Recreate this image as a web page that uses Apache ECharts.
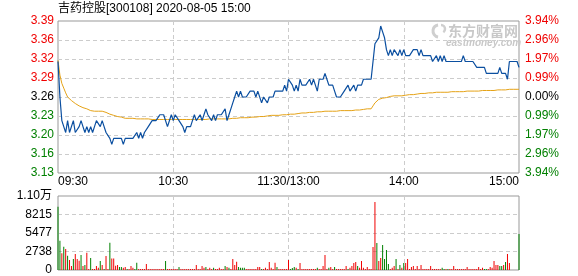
<!DOCTYPE html>
<html><head><meta charset="utf-8">
<script src="https://cdn.jsdelivr.net/npm/echarts@6/dist/echarts.min.js"></script>
<style>html,body{margin:0;padding:0;background:#fff}#c{width:578px;height:276px}</style>
</head><body><div id="c"></div>
<script>
const titleText = '吉药控股[300108] 2020-08-05 15:00';
const priceLabels = ['3.13','3.16','3.20','3.23','3.26','3.29','3.32','3.36','3.39'];
const pctLabels = ['3.94%','2.96%','1.97%','0.99%','0.00%','0.99%','1.97%','2.96%','3.94%'];
const volLabels = ['0','2738','5477','8215','1.10万'];
const xTickIdx = [0, 60, 120, 180, 240];
const xTickLabels = ['09:30','10:30','11:30/13:00','14:00','15:00'];

const price = [
3.32,3.26,3.22,3.21,3.20,3.22,3.20,3.20,3.22,3.20,
3.20,3.21,3.22,3.21,3.20,3.21,3.20,3.21,3.20,3.21,
3.22,3.22,3.21,3.22,3.21,3.20,3.20,3.19,3.18,3.19,
3.19,3.19,3.19,3.19,3.18,3.19,3.19,3.19,3.19,3.19,
3.19,3.20,3.19,3.20,3.19,3.20,3.20,3.21,3.21,3.22,
3.22,3.22,3.22,3.23,3.23,3.23,3.23,3.21,3.21,3.23,
3.22,3.23,3.23,3.22,3.22,3.21,3.20,3.21,3.21,3.21,
3.22,3.23,3.22,3.22,3.23,3.22,3.23,3.24,3.23,3.23,
3.22,3.23,3.22,3.23,3.23,3.23,3.23,3.24,3.22,3.23,
3.24,3.25,3.26,3.27,3.26,3.27,3.26,3.26,3.26,3.26,
3.27,3.27,3.27,3.26,3.27,3.27,3.25,3.26,3.26,3.25,
3.26,3.26,3.26,3.27,3.27,3.27,3.27,3.27,3.28,3.27,
3.29,3.29,3.28,3.27,3.28,3.27,3.29,3.28,3.28,3.28,
3.28,3.29,3.28,3.29,3.28,3.27,3.29,3.29,3.29,3.30,
3.29,3.28,3.28,3.28,3.27,3.26,3.26,3.26,3.26,3.27,
3.27,3.28,3.27,3.27,3.28,3.27,3.28,3.28,3.28,3.29,
3.29,3.29,3.29,3.29,3.32,3.35,3.35,3.36,3.38,3.37,
3.36,3.34,3.33,3.34,3.33,3.34,3.34,3.33,3.34,3.33,
3.34,3.33,3.33,3.33,3.33,3.34,3.34,3.34,3.33,3.34,
3.33,3.33,3.33,3.33,3.33,3.32,3.32,3.33,3.32,3.33,
3.32,3.33,3.32,3.32,3.32,3.32,3.32,3.32,3.32,3.32,
3.32,3.33,3.32,3.32,3.32,3.32,3.32,3.32,3.31,3.31,
3.31,3.31,3.31,3.30,3.30,3.30,3.30,3.30,3.30,3.30,
3.31,3.30,3.30,3.30,3.29,3.32,3.32,3.32,3.32,3.32,
3.31];

const avgPrice = [
3.322,3.297,3.283,3.275,3.267,3.260,3.257,3.254,3.251,3.249,
3.246,3.245,3.243,3.242,3.241,3.240,3.239,3.237,3.236,3.236,
3.236,3.236,3.236,3.236,3.235,3.234,3.232,3.231,3.230,3.229,
3.228,3.227,3.227,3.226,3.225,3.224,3.224,3.224,3.224,3.224,
3.224,3.223,3.223,3.223,3.223,3.223,3.223,3.223,3.222,3.222,
3.222,3.222,3.222,3.222,3.222,3.222,3.222,3.222,3.222,3.222,
3.222,3.222,3.222,3.222,3.222,3.222,3.222,3.222,3.222,3.222,
3.222,3.222,3.222,3.222,3.222,3.222,3.222,3.222,3.222,3.223,
3.223,3.223,3.223,3.223,3.223,3.223,3.223,3.223,3.223,3.223,
3.224,3.224,3.224,3.224,3.225,3.225,3.225,3.225,3.225,3.225,
3.226,3.226,3.226,3.226,3.227,3.227,3.227,3.227,3.228,3.228,
3.228,3.229,3.229,3.229,3.229,3.229,3.229,3.230,3.230,3.230,
3.231,3.231,3.231,3.231,3.232,3.232,3.233,3.233,3.233,3.233,
3.234,3.234,3.234,3.234,3.235,3.235,3.235,3.235,3.236,3.236,
3.236,3.236,3.236,3.236,3.236,3.236,3.237,3.237,3.237,3.237,
3.237,3.237,3.237,3.237,3.238,3.238,3.238,3.238,3.239,3.239,
3.239,3.240,3.240,3.240,3.245,3.250,3.253,3.256,3.257,3.258,
3.259,3.259,3.260,3.261,3.261,3.262,3.262,3.262,3.262,3.262,
3.263,3.263,3.263,3.264,3.264,3.264,3.265,3.265,3.265,3.266,
3.266,3.266,3.267,3.267,3.267,3.267,3.268,3.268,3.268,3.268,
3.268,3.268,3.268,3.268,3.268,3.269,3.269,3.269,3.269,3.269,
3.269,3.269,3.269,3.270,3.270,3.270,3.270,3.270,3.270,3.270,
3.270,3.271,3.271,3.271,3.271,3.271,3.271,3.271,3.272,3.272,
3.272,3.272,3.272,3.272,3.273,3.273,3.273,3.273,3.273,3.273,
3.273];

const volume = [
9370,4340,2470,3450,3110,2120,1480,590,1630,2370,
1630,1380,2220,590,740,2570,150,1780,150,150,
590,350,1330,740,150,2070,150,4040,1700,1700,
640,740,450,450,350,450,150,150,590,350,
150,1080,150,150,150,150,890,150,150,150,
150,150,150,150,150,150,1330,150,150,150,
150,150,150,450,150,150,150,150,150,150,
150,150,740,150,150,590,350,450,150,350,
150,350,150,150,350,150,150,590,450,350,
150,1630,740,1230,450,350,350,350,150,150,
150,150,150,150,450,450,150,150,350,150,
1180,350,150,1080,450,150,150,150,150,150,
1480,150,300,450,350,150,1036,150,150,150,
150,150,150,150,150,350,150,150,590,2220,
150,350,450,150,450,150,150,150,150,150,
590,150,350,590,1036,1180,590,350,1330,350,
150,450,150,150,3400,10064,4000,1330,1780,3700,
1630,2960,890,150,350,590,1630,150,740,350,
1036,1036,1630,150,450,590,150,590,150,740,
150,150,150,150,590,150,150,150,150,150,
350,150,150,150,150,150,590,150,150,150,
150,150,150,450,150,150,150,150,150,450,
150,350,150,150,150,450,350,1330,740,740,
590,590,740,1180,2370,1036,0,0,0,0,
5330];

// 1 = up (red), -1 = down (green)
const volDir = [
-1,-1,1,-1,1,-1,1,1,-1,1,
1,1,-1,1,-1,1,1,-1,1,1,
1,1,-1,1,-1,1,1,-1,1,1,
1,1,-1,-1,1,1,-1,1,1,1,
-1,-1,1,1,1,1,1,1,1,1,
1,1,1,1,1,1,-1,1,1,1,
1,1,1,-1,1,1,1,1,1,1,
1,1,1,1,1,1,1,-1,1,1,
1,-1,1,1,1,1,1,-1,1,-1,
1,1,1,1,-1,-1,-1,-1,1,1,
1,1,1,1,1,1,-1,1,1,1,
1,1,1,1,-1,1,1,1,1,1,
1,-1,-1,-1,1,-1,1,1,1,1,
1,1,1,1,1,-1,1,1,1,1,
1,-1,1,1,-1,1,1,1,1,1,
1,-1,1,1,1,1,-1,1,1,1,
1,1,1,1,1,1,-1,1,1,-1,
-1,-1,-1,1,1,1,-1,1,-1,1,
-1,1,1,1,1,1,1,1,1,1,
1,1,1,1,1,1,1,1,1,1,
-1,-1,1,-1,1,1,1,1,1,1,
1,1,1,1,1,1,1,1,1,1,
1,1,-1,-1,1,1,1,1,1,1,
-1,-1,1,-1,1,1,1,1,1,1,
-1];

// minute categories 09:30..11:30, 13:01..15:00
const times = [];
function pad(n){return (n<10?'0':'')+n;}
for (let m = 9*60+30; m <= 11*60+30; m++) times.push(pad(Math.floor(m/60))+':'+pad(m%60));
for (let m = 13*60+1; m <= 15*60; m++) times.push(pad(Math.floor(m/60))+':'+pad(m%60));

const priceMin = 3.1316, priceMax = 3.3884;
const bandMin = -394, bandMax = 394, bandStep = 98.5;
const volMax = 10954, volStep = 2738.5;
const RED = '#f00000', GREEN = '#008000';
const FONT = '"Liberation Sans", "Noto Sans CJK SC", sans-serif';

function bandIdx(v){ return Math.round((Number(v) - bandMin) / bandStep); }
function sideColor(i){ return i < 4 ? GREEN : (i > 4 ? RED : '#000000'); }
function xLabel(v){ for (let k = 0; k < xTickIdx.length; k++) if (times[xTickIdx[k]] === v) return xTickLabels[k]; return ''; }
const isTick = (i) => xTickIdx.indexOf(i) >= 0;
const isInnerTick = (i) => i > 0 && i < 240 && xTickIdx.indexOf(i) >= 0;

const dashed = {color:'#cccccc', type:[4,3], width:1};

const chart = echarts.init(document.getElementById('c'), null, {renderer:'canvas'});
chart.setOption({
  animation: false,
  textStyle: {fontFamily: FONT},
  title: {text: titleText, left: 58, top: 3, padding: 0,
    textStyle: {fontSize: 12, fontWeight: 'normal', color: '#000', fontFamily: FONT}},
  grid: [
    {left: 58, right: 59, top: 21, height: 152, show: true, borderColor: '#999', borderWidth: 1},
    {left: 58, right: 59, top: 196, height: 74, show: true, borderColor: '#999', borderWidth: 1}
  ],
  graphic: [
    {type:'arc', shape:{cx:439, cy:31, r:6, startAngle:Math.PI*0.55, endAngle:Math.PI*1.45}, style:{stroke:'#cfcfcf', lineWidth:3, fill:null}},
    {type:'arc', shape:{cx:441, cy:29, r:4, startAngle:Math.PI*1.5, endAngle:Math.PI*2.3}, style:{stroke:'#cfcfcf', lineWidth:2.5, fill:null}},
    {type:'text', left:448, top:24, style:{text:'东方财富网', font:'bold 14px "Noto Sans CJK SC"', fill:'#c8c8c8'}},
    {type:'text', left:446, top:38, style:{text:'eastmoney.com', font:'italic bold 10px "Liberation Sans"', fill:'#c8c8c8'}}
  ],
  xAxis: [
    {type:'category', gridIndex:0, data:times, boundaryGap:false,
      axisLine:{show:false}, axisTick:{show:false},
      axisLabel:{interval:(i)=>isTick(i), formatter:(v)=>xLabel(v), margin:3, color:'#000', fontSize:12,
        alignMinLabel:'left', alignMaxLabel:'right', showMinLabel:true, showMaxLabel:true},
      splitLine:{show:true, interval:(i)=>isInnerTick(i), lineStyle:dashed}},
    {type:'category', gridIndex:1, data:times, boundaryGap:false,
      axisLine:{show:false}, axisTick:{show:false}, axisLabel:{show:false},
      splitLine:{show:true, interval:(i)=>isInnerTick(i), lineStyle:dashed}}
  ],
  yAxis: [
    {type:'value', gridIndex:0, position:'left', min:bandMin, max:bandMax, interval:bandStep,
      axisLine:{show:false}, axisTick:{show:false},
      axisLabel:{formatter:(v)=>priceLabels[bandIdx(v)], color:(v)=>sideColor(bandIdx(v)), margin:4, fontSize:12},
      splitLine:{show:true, showMinLine:false, showMaxLine:false, lineStyle:dashed}},
    {type:'value', gridIndex:0, position:'right', min:bandMin, max:bandMax, interval:bandStep,
      axisLine:{show:false}, axisTick:{show:false},
      axisLabel:{formatter:(v)=>pctLabels[bandIdx(v)], color:(v)=>sideColor(bandIdx(v)), margin:6, fontSize:12},
      splitLine:{show:false}},
    {type:'value', gridIndex:0, min:priceMin, max:priceMax, show:false, splitLine:{show:false}},
    {type:'value', gridIndex:1, position:'left', min:0, max:volMax, interval:volStep,
      axisLine:{show:false}, axisTick:{show:false},
      axisLabel:{formatter:(v)=>volLabels[Math.round(Number(v)/volStep)], color:'#000', margin:6, fontSize:12},
      splitLine:{show:true, showMinLine:false, showMaxLine:false, lineStyle:dashed}}
  ],
  series: [
    {type:'bar', xAxisIndex:1, yAxisIndex:3, data:volume, barWidth:1,
      itemStyle:{color:(p)=> volDir[p.dataIndex] > 0 ? RED : GREEN}},
    {type:'line', xAxisIndex:0, yAxisIndex:2, data:avgPrice, symbol:'none',
      lineStyle:{color:'#e5a216', width:1}, z:3},
    {type:'line', xAxisIndex:0, yAxisIndex:2, data:price, symbol:'none',
      lineStyle:{color:'#0b4fa0', width:1.2}, z:4}
  ]
});
</script>
</body></html>
